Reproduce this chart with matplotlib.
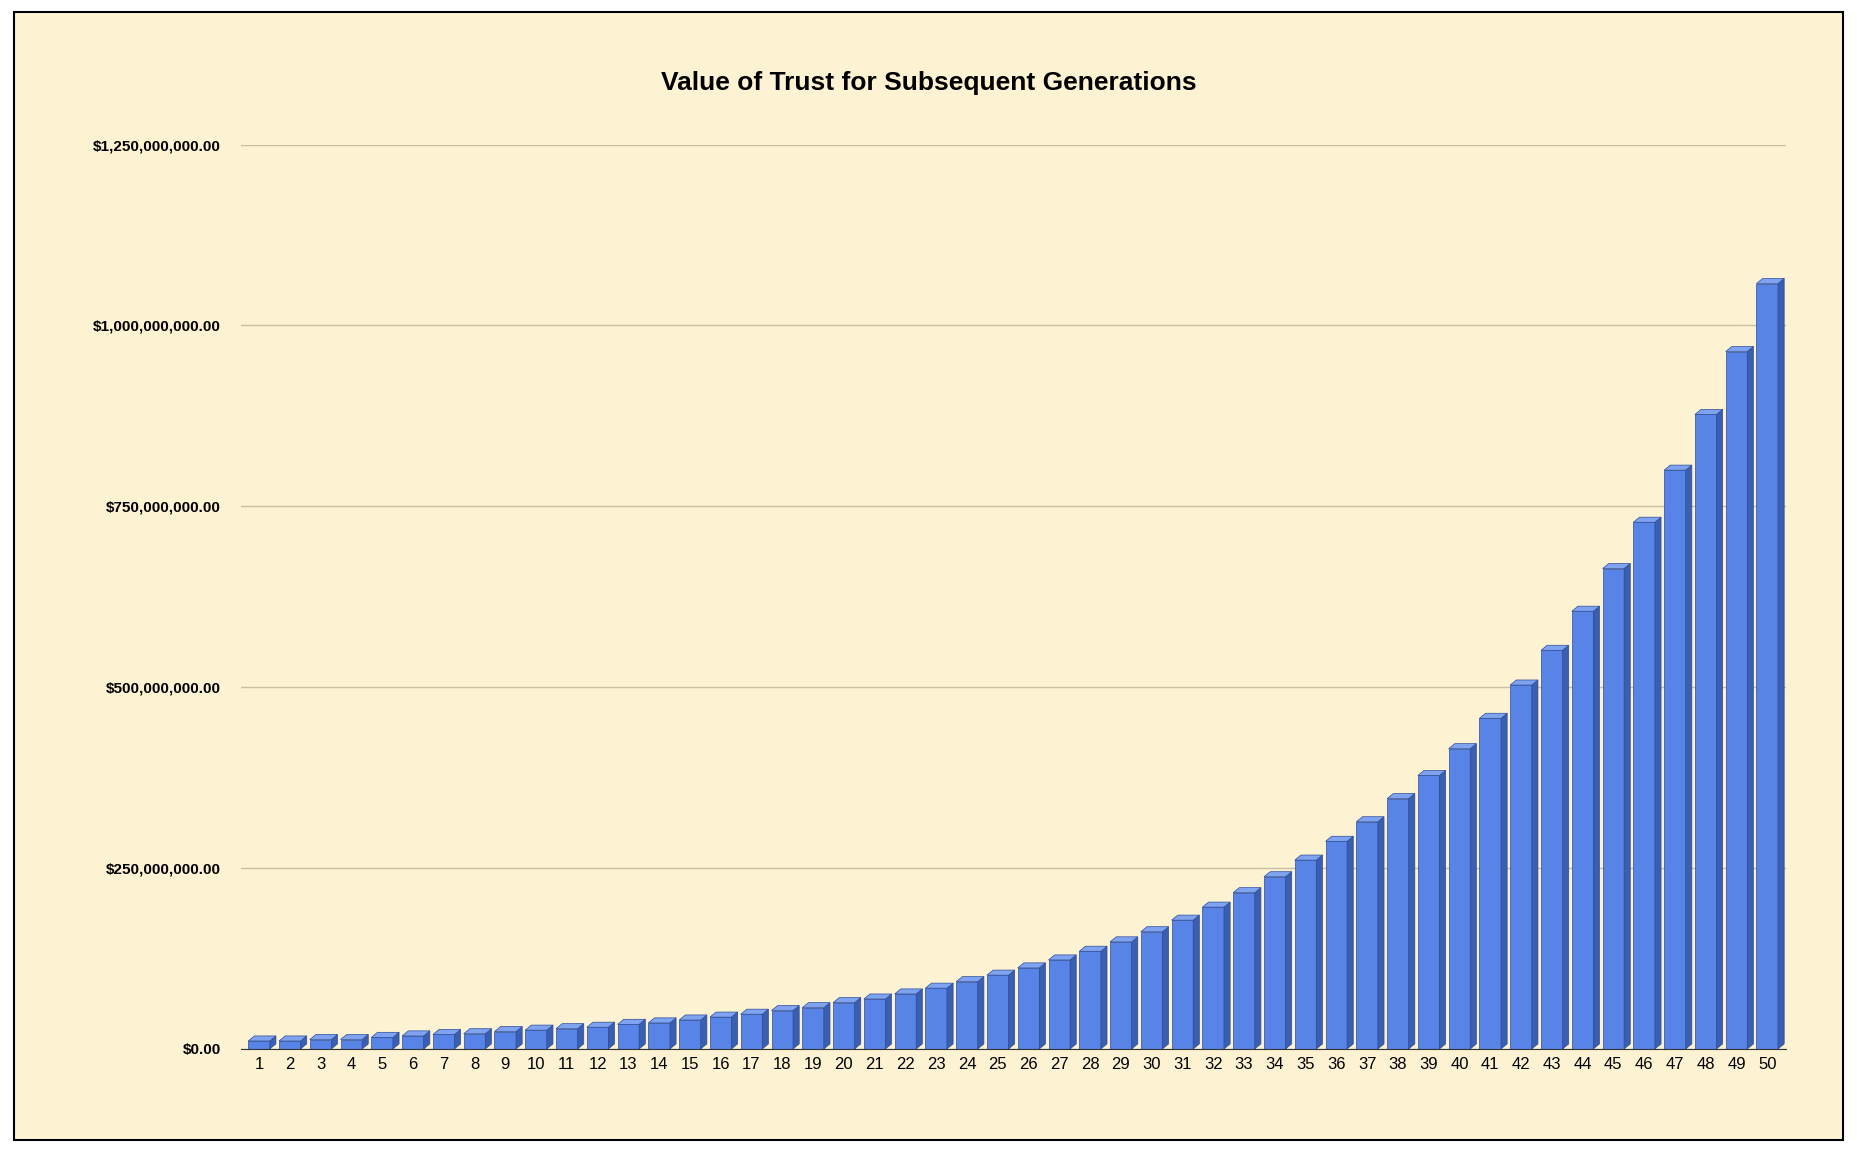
import matplotlib
matplotlib.use("Agg")
import matplotlib.pyplot as plt
from matplotlib.patches import Polygon, Rectangle
from matplotlib.ticker import FuncFormatter

plt.rcParams["font.family"] = "Liberation Sans"

generations = list(range(1, 51))
values_millions = [11, 11, 13, 13, 16, 18, 20, 21, 24, 26,
                   28, 30, 34, 36, 40, 44, 48, 53, 57, 64,
                   69, 76, 84, 93, 102, 112, 123, 135, 148, 162,
                   178, 196, 216, 238, 261, 287, 314, 346, 378, 415,
                   457, 503, 551, 605, 664, 728, 800, 877, 964, 1058]
values = [v * 1e6 for v in values_millions]
title = "Value of Trust for Subsequent Generations"

W, H = 1858, 1158
fig = plt.figure(figsize=(W / 100, H / 100), dpi=100, facecolor="white")
fig.patches.append(Rectangle((12 / 1568, 1 - 962 / 977), (1555 - 12) / 1568, (962 - 10) / 977,
                             transform=fig.transFigure, facecolor="#fdf2d2",
                             edgecolor="black", linewidth=1.5, zorder=-10))

ax = fig.add_axes([203 / 1568, 1 - 885 / 977, (1507 - 203) / 1568, (885 - 122) / 977])
ax.set_zorder(5)
ax.set_facecolor("none")
ax.set_xlim(0.4, 50.6)
ax.set_ylim(0, 1.25e9)

front = "#5784e6"
side = "#3a5fb0"
top = "#7fa3f0"
bw = 0.7
dx, dy = 0.2, 7e6
for g, v in zip(generations, values):
    x0 = g - bw / 2
    ax.add_patch(Rectangle((x0, 0), bw, v, facecolor=front, edgecolor="#2b4c99", linewidth=0.5, zorder=3))
    ax.add_patch(Polygon([(x0 + bw, 0), (x0 + bw + dx, dy), (x0 + bw + dx, v + dy), (x0 + bw, v)],
                         closed=True, facecolor=side, edgecolor="#2b4c99", linewidth=0.5, zorder=3))
    ax.add_patch(Polygon([(x0, v), (x0 + dx, v + dy), (x0 + bw + dx, v + dy), (x0 + bw, v)],
                         closed=True, facecolor=top, edgecolor="#2b4c99", linewidth=0.5, zorder=3))

ax.set_yticks([0, 2.5e8, 5e8, 7.5e8, 1e9, 1.25e9])
ax.yaxis.set_major_formatter(FuncFormatter(lambda v, p: "${:,.2f}".format(v)))
ax.set_xticks(generations)
ax.set_xticklabels([str(g) for g in generations])
ax.grid(axis="y", color="#c8bfa5", linewidth=1, zorder=1)
ax.set_axisbelow(True)
for s in ["top", "right", "left"]:
    ax.spines[s].set_visible(False)
ax.spines["bottom"].set_color("#333333")
ax.spines["bottom"].set_zorder(4)
ax.tick_params(axis="y", length=0, labelsize=11, pad=14)
ax.tick_params(axis="x", length=0, labelsize=12, pad=6)
for lbl in ax.get_yticklabels():
    lbl.set_fontweight("bold")

fig.text(0.5, 1 - 70 / 977, title, ha="center", va="center", fontsize=19, fontweight="bold")

fig.savefig("out.png", dpi=100, facecolor="white")
